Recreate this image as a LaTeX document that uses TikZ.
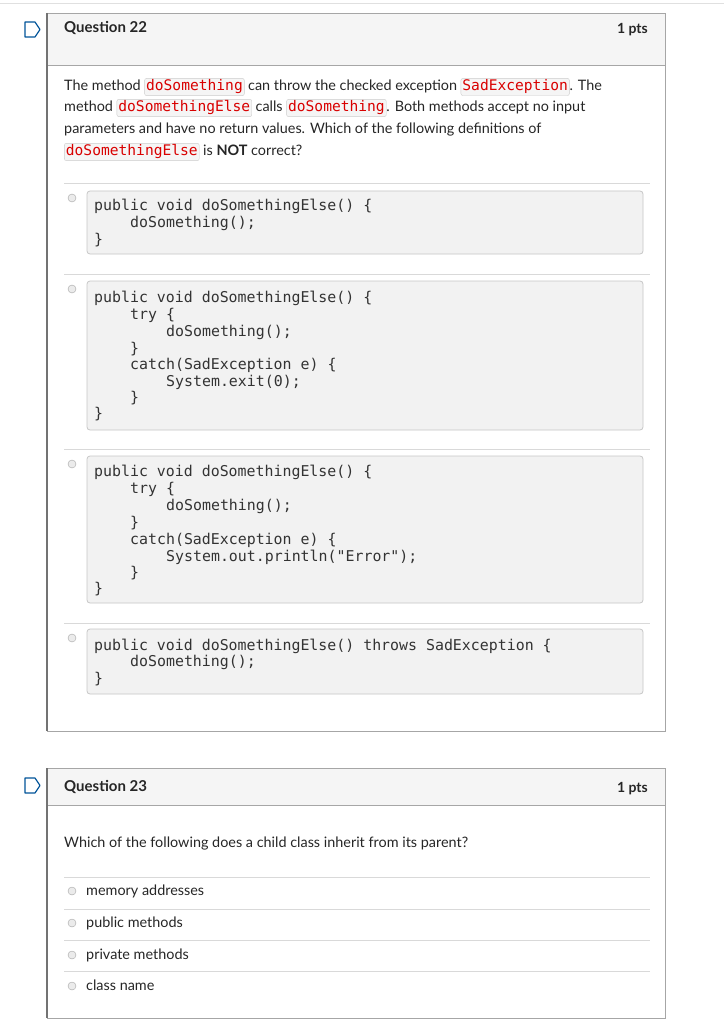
\documentclass[tikz,border=0pt]{standalone}
\usepackage{fontspec}
\setmainfont{Lato}
\setmonofont{DejaVu Sans Mono}
\begin{document}
\begin{tikzpicture}[x=1pt,y=-1pt,
  txt/.style={anchor=base west,inner sep=0pt,font=\fontsize{14.4}{16}\selectfont,text=black!85},
  code/.style={anchor=base west,inner sep=0pt,font=\fontsize{14.9}{17}\ttfamily,text=black!80},
  hdr/.style={anchor=base west,inner sep=0pt,font=\fontsize{15}{18}\selectfont\bfseries,text=black!85},
  cbox/.style={draw=black!22,fill=black!5,rounded corners=3pt,line width=0.8pt},
  sep/.style={draw=black!15,line width=0.8pt},
  radio/.style={circle,draw=black!35,fill=black!8,minimum size=8pt,inner sep=0pt},
  flag/.style={draw=blue!45!cyan!60!black,line width=1.2pt,line join=round}]
\newcommand{\ic}[1]{\tikz[baseline=(c.base)]\node[draw=black!20,fill=black!4,rounded corners=2pt,inner sep=1.5pt,text=red!85!black,font=\fontsize{14.6}{17}\ttfamily](c){#1};}
\fill[white] (0,0) rectangle (724,1024);
\useasboundingbox (0,0) rectangle (724,1024);
\draw[black!12,line width=1pt] (0,4) -- (724,4);
% Q22
\fill[black!4] (47,13) rectangle (665,65);
\draw[black!35,line width=0.8pt] (47,13) rectangle (665,731);
\draw[black!35,line width=0.8pt] (47,65) -- (665,65);
\draw[black!55,line width=1.5pt] (47,13) -- (47,731);
\draw[flag] (25,22) -- (35,22) -- (40,29.5) -- (35,37) -- (25,37) -- cycle;
\node[hdr] (q22) at (64,33) {Question 22};
\node[hdr,anchor=base east,font=\fontsize{14}{18}\selectfont\bfseries] (p22) at (648,34) {1 pts};
\node[txt] (l1) at (64,91) {The method \ic{doSomething} can throw the checked exception \ic{SadException}. The};
\node[txt] (l2) at (64,112) {method \ic{doSomethingElse} calls \ic{doSomething}. Both methods accept no input};
\node[txt] (l3) at (64,134) {parameters and have no return values. Which of the following definitions of};
\node[txt] (l4) at (64,156) {\ic{doSomethingElse} is \textbf{NOT} correct?};
\draw[sep] (64,183) -- (650,183);
% option 1
\node[radio] (r1) at (72,198) {};
\draw[cbox] (87,191) rectangle (643,254);
\node[code] (a1) at (94,211) {public void doSomethingElse() \{};
\node[code] (a2) at (130,227) {doSomething();};
\node[code] (a3) at (94,244) {\}};
\draw[sep] (64,274) -- (650,274);
% option 2
\node[radio] (r2) at (72,289) {};
\draw[cbox] (87,281) rectangle (643,430);
\node[code] (b1) at (94,302) {public void doSomethingElse() \{};
\node[code] (b2) at (130,319) {try \{};
\node[code] (b3) at (166,336) {doSomething();};
\node[code] (b4) at (130,353) {\}};
\node[code] (b5) at (130,369) {catch(SadException e) \{};
\node[code] (b6) at (166,386) {System.exit(0);};
\node[code] (b7) at (130,402) {\}};
\node[code] (b8) at (94,418) {\}};
\draw[sep] (64,449) -- (650,449);
% option 3
\node[radio] (r3) at (72,464) {};
\draw[cbox] (87,456) rectangle (643,603);
\node[code] (c1) at (94,476) {public void doSomethingElse() \{};
\node[code] (c2) at (130,493) {try \{};
\node[code] (c3) at (166,510) {doSomething();};
\node[code] (c4) at (130,527) {\}};
\node[code] (c5) at (130,544) {catch(SadException e) \{};
\node[code] (c6) at (166,561) {System.out.println("Error");};
\node[code] (c7) at (130,577) {\}};
\node[code] (c8) at (94,593) {\}};
\draw[sep] (64,623) -- (650,623);
% option 4
\node[radio] (r4) at (72,638) {};
\draw[cbox] (87,629) rectangle (643,694);
\node[code] (d1) at (94,650) {public void doSomethingElse() throws SadException \{};
\node[code] (d2) at (130,666) {doSomething();};
\node[code] (d3) at (94,683) {\}};
% Q23
\fill[black!4] (47,768) rectangle (665,805);
\draw[black!35,line width=0.8pt] (47,768) rectangle (665,1018);
\draw[black!35,line width=0.8pt] (47,805) -- (665,805);
\draw[black!55,line width=1.5pt] (47,768) -- (47,1018);
\draw[flag] (25,778) -- (35,778) -- (40,785.5) -- (35,793) -- (25,793) -- cycle;
\node[hdr] (q23) at (64,791) {Question 23};
\node[hdr,anchor=base east,font=\fontsize{14}{18}\selectfont\bfseries] (p23) at (648,792) {1 pts};
\node[txt] (t23) at (64,847) {Which of the following does a child class inherit from its parent?};
\draw[sep] (64,877) -- (650,877);
\node[radio] (s1) at (72,891) {};
\node[txt] (o1) at (86,895) {memory addresses};
\draw[sep] (64,909) -- (650,909);
\node[radio] (s2) at (72,923) {};
\node[txt] (o2) at (86,927) {public methods};
\draw[sep] (64,940) -- (650,940);
\node[radio] (s3) at (72,955) {};
\node[txt] (o3) at (86,959) {private methods};
\draw[sep] (64,971) -- (650,971);
\node[radio] (s4) at (72,986) {};
\node[txt] (o4) at (86,990) {class name};
\end{tikzpicture}
\end{document}
